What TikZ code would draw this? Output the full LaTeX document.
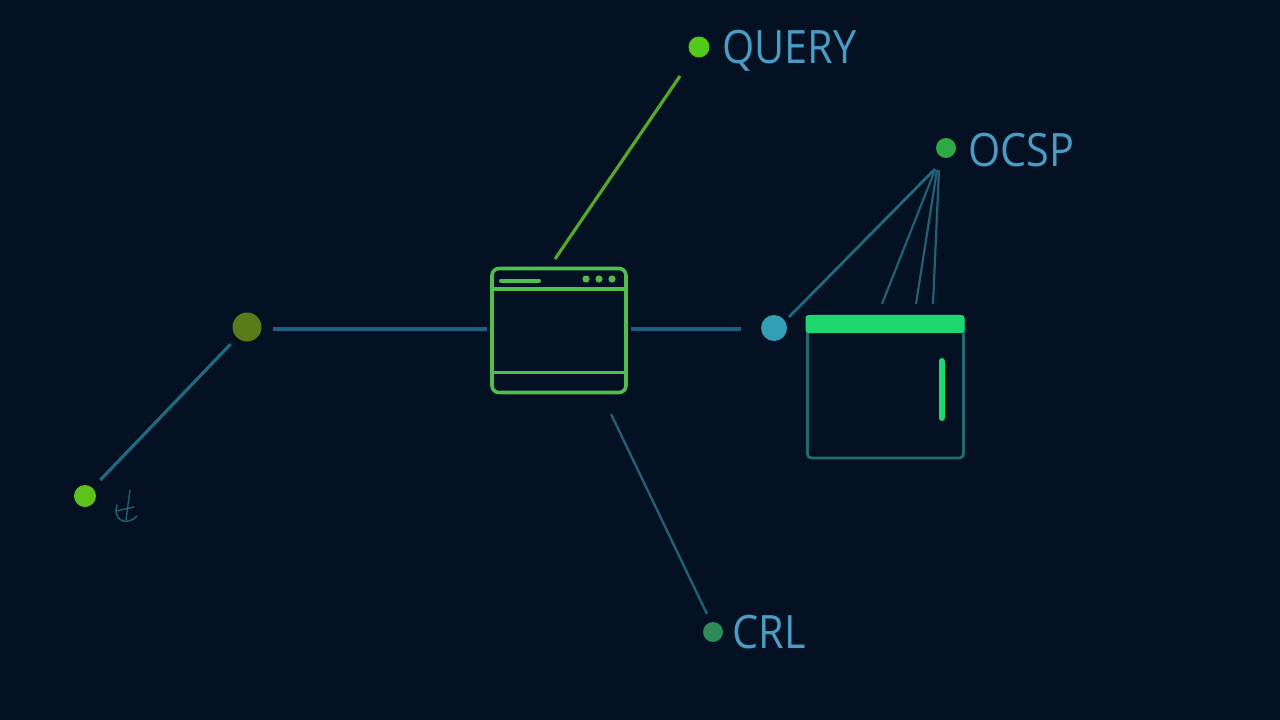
\documentclass[tikz,border=0pt]{standalone}
\usepackage{fontspec}
\setmainfont[FakeStretch=0.9]{Open Sans}
\usetikzlibrary{positioning}
\definecolor{bgdark}{HTML}{031122}
\definecolor{limedot}{HTML}{5FC21C}
\definecolor{olivedot}{HTML}{5A7A1C}
\definecolor{cyandot}{HTML}{339FB5}
\definecolor{greendot}{HTML}{2FA84A}
\definecolor{mossdot}{HTML}{2F8A5A}
\definecolor{labelblue}{HTML}{4A9CC4}
\definecolor{linkblue}{HTML}{1F5F85}
\definecolor{linkteal}{HTML}{1F6A80}
\definecolor{linkdim}{HTML}{245F78}
\definecolor{linkgreen}{HTML}{58A828}
\definecolor{winframe}{HTML}{4FBF4F}
\definecolor{panelframe}{HTML}{236B70}
\definecolor{panelbar}{HTML}{1ED670}
\tikzset{
    dot/.style={circle, inner sep=0pt, minimum size=#1},
    tag/.style={text=labelblue, inner sep=0pt, anchor=west, font=\fontsize{46}{46}\selectfont},
    link/.style={line width=3.2pt, color=linkblue},
    thinlink/.style={line width=2.2pt, color=linkdim},
}
\begin{document}
\begin{tikzpicture}[x=1pt, y=-1pt]
    \fill[bgdark] (0,0) rectangle (1280,720);
    % dots
    \node[dot=22, fill=limedot] (leaf) at (85,496) {};
    \node[dot=29, fill=olivedot] (hub) at (247,327) {};
    \node[dot=26, fill=cyandot] (relay) at (774,328) {};
    \node[dot=21, fill=limedot!85!green] (query) at (699,47) {};
    \node[dot=20, fill=greendot] (ocsp) at (946,148) {};
    \node[dot=20, fill=mossdot] (crl) at (713,632) {};
    % labels
    \node[tag, right=12.5pt of query, yshift=-3.5pt] (querytag) {QUERY};
    \node[tag, right=12pt of ocsp, yshift=-2.5pt] (ocsptag) {OCSP};
    \node[tag, right=9pt of crl, yshift=0pt] (crltag) {CRL};
    % browser window
    \node[draw=winframe, line width=3.6pt, rounded corners=7pt, minimum width=134pt, minimum height=124pt, inner sep=0pt] (win) at (559,330.5) {};
    \draw[winframe, line width=3.6pt] (491,289) -- (627,289);
    \draw[winframe, line width=3.6pt] (491,372.5) -- (627,372.5);
    \draw[winframe, line width=4pt, line cap=round] (501,280.5) -- (539,280.5);
    \foreach \x in {586,599,612}
        \fill[winframe!85!gray] (\x,279) circle (3.6pt);
    % panel
    \node[draw=panelframe, line width=2.8pt, rounded corners=4pt, minimum width=156pt, minimum height=142pt, inner sep=0pt] (panel) at (885.5,387) {};
    \fill[panelbar, rounded corners=3pt] (805.5,315) rectangle (964.5,333);
    \draw[panelbar, line width=6pt, line cap=round] (941.5,361) -- (941.5,418);
    % free ends
    \coordinate (winup) at (555,259);
    \coordinate (queryend) at (680,76);
    \coordinate (winleft) at (487,329);
    \coordinate (hubend) at (273,329);
    \coordinate (winright) at (631,329);
    \coordinate (relayend) at (741,329);
    \coordinate (windown) at (611,414);
    \coordinate (crlend) at (707,614);
    \coordinate (fana) at (935,169);
    \coordinate (fanb) at (935,170);
    \coordinate (fanc) at (937,170);
    \coordinate (fand) at (939,170);
    \coordinate (relayfan) at (789,317);
    \coordinate (bara) at (882,304);
    \coordinate (barb) at (916,304);
    \coordinate (barc) at (933,304);
    % connectors
    \draw[link, color=linkteal, shorten <=11pt, shorten >=9pt] (leaf) -- (hub);
    \draw[link] (hubend) -- (winleft);
    \draw[link] (winright) -- (relayend);
    \draw[link, color=linkgreen] (winup) -- (queryend);
    \draw[thinlink, line width=2.4pt] (windown) -- (crlend);
    \draw[link, line width=2.8pt, color=linkteal] (relayfan) -- (fana);
    \draw[thinlink] (bara) -- (fanb);
    \draw[thinlink] (barb) -- (fanc);
    \draw[thinlink] (barc) -- (fand);
    % scribble
    \draw[linkdim, line width=1.4pt, line cap=round] (130,490) -- (126,520);
    \draw[linkdim, line width=1.4pt, line cap=round] (117,505) .. controls (112,518) and (125,528) .. (137,516);
    \draw[linkdim, line width=1.4pt, line cap=round] (116,511) -- (134,507);
\end{tikzpicture}
\end{document}
